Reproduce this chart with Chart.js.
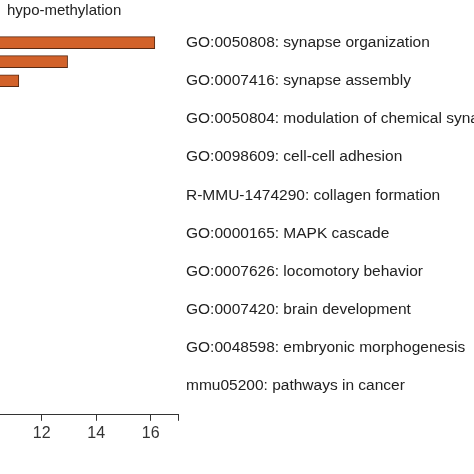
<!DOCTYPE html>
<html><head><meta charset="utf-8">
<script src="https://cdn.jsdelivr.net/npm/chart.js@4"></script>
<style>html,body{margin:0;padding:0;background:#fff}#w{width:474px;height:474px}</style>
</head><body><div id="w"><canvas id="c"></canvas></div>
<script>
const categories = ["GO:0050808: synapse organization","GO:0048812: neuron projection morphogenesis","GO:0007416: synapse assembly","GO:0007169: transmembrane receptor protein tyrosine kinase signaling pathway","GO:0050804: modulation of chemical synaptic transmission","GO:1905114: cell surface receptor signaling pathway involved in cell-cell signaling","GO:0098609: cell-cell adhesion","GO:0099068: postsynapse assembly","R-MMU-1474290: collagen formation","GO:0001764: neuron migration","GO:0000165: MAPK cascade","GO:0098742: cell-cell adhesion via plasma-membrane adhesion molecules","GO:0007626: locomotory behavior","GO:0034762: regulation of transmembrane transport","GO:0007420: brain development","R-MMU-112316: neuronal system","GO:0048598: embryonic morphogenesis","GO:0007264: small GTPase mediated signal transduction","mmu05200: pathways in cancer","GO:0030855: epithelial cell differentiation"];
const values = [16.15,12.95,11.16,10.3,10.0,9.6,9.3,9.0,8.7,8.4,8.1,7.9,7.6,7.4,7.2,7.0,6.8,6.6,6.4,6.2];
const tickValues = [12,14,16];
const titleText = "hypo-methylation";
new Chart(document.getElementById('c'),{
 type:'bar',
 data:{labels:categories,datasets:[{data:values,backgroundColor:'#d2622a',borderColor:'#5a2a12',borderWidth:1,barThickness:12,borderSkipped:false}]},
 options:{indexAxis:'y',responsive:true,maintainAspectRatio:false,animation:false,
  layout:{padding:{top:33,left:0,right:0,bottom:28}},
  plugins:{legend:{display:false},tooltip:{enabled:false}},
  scales:{
   x:{min:10.47,max:17,border:{display:true,color:'#333',width:1},
      grid:{display:true,drawOnChartArea:false,tickLength:6,color:'#333'},
      afterBuildTicks:s=>{s.ticks=tickValues.concat([17]).map(v=>({value:v}));},
      ticks:{color:'#333',font:{family:'Liberation Sans',size:16},padding:3,callback:v=>v===17?'':v}},
   y:{position:'right',border:{display:false},grid:{display:false},
      afterFit:s=>{s.width=296;},
      ticks:{color:'#222',font:{family:'Liberation Sans',size:15.5},padding:0,crossAlign:'near'}}
  }},
 plugins:[{id:'t',afterDraw(ch){const c=ch.ctx;c.save();c.font='15px "Liberation Sans"';c.fillStyle='#222';c.textBaseline='middle';c.fillText(titleText,7,11);c.restore();}}]
});
</script></body></html>
